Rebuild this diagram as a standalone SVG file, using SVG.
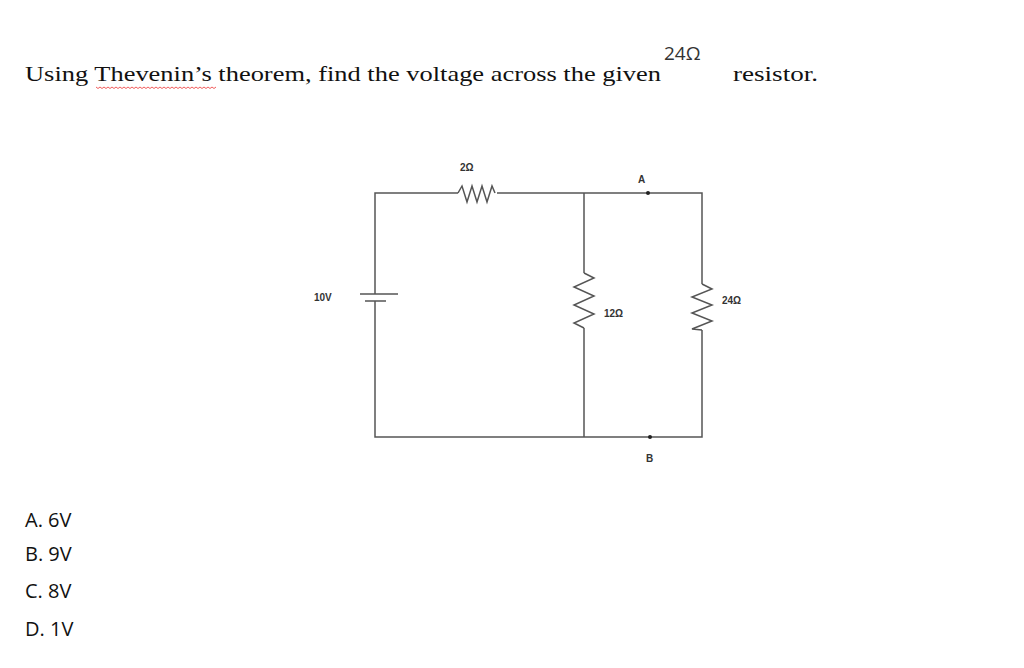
<svg xmlns="http://www.w3.org/2000/svg" width="1024" height="668" viewBox="0 0 1024 668">
<style>
.w{fill:none;stroke:#555;stroke-width:1.5}
.s{font-family:"Liberation Sans",Arial,sans-serif;font-size:10px;font-weight:bold;fill:#333}
.q{font-family:"Liberation Serif",serif;font-size:22px;fill:#111}
.o{font-family:"Open Sans",sans-serif;font-size:20px;fill:#111}
</style>
<rect width="1024" height="668" fill="#fff"/>
<text class="q" x="25" y="81" textLength="636" lengthAdjust="spacingAndGlyphs">Using Thevenin’s theorem, find the voltage across the given</text>
<path d="M96 87 l2 1.5 l2 -1.5 l2 1.5 l2 -1.5 l2 1.5 l2 -1.5 l2 1.5 l2 -1.5 l2 1.5 l2 -1.5 l2 1.5 l2 -1.5 l2 1.5 l2 -1.5 l2 1.5 l2 -1.5 l2 1.5 l2 -1.5 l2 1.5 l2 -1.5 l2 1.5 l2 -1.5 l2 1.5 l2 -1.5 l2 1.5 l2 -1.5 l2 1.5 l2 -1.5 l2 1.5 l2 -1.5 l2 1.5 l2 -1.5 l2 1.5 l2 -1.5 l2 1.5 l2 -1.5 l2 1.5 l2 -1.5 l2 1.5 l2 -1.5 l2 1.5 l2 -1.5 l2 1.5 l2 -1.5 l2 1.5 l2 -1.5 l2 1.5 l2 -1.5 l2 1.5 l2 -1.5 l2 1.5 l2 -1.5 l2 1.5 l2 -1.5 l2 1.5 l2 -1.5 l2 1.5 l2 -1.5 l2 1.5 l2 -1.5" fill="none" stroke="#e33" stroke-width="0.8"/>
<text x="664" y="60" style="font-family:'Open Sans',sans-serif;font-size:19px;fill:#333">24Ω</text>
<text class="q" x="733" y="81" textLength="85" lengthAdjust="spacingAndGlyphs">resistor.</text>
<g id="wires">
<path class="w" d="M375 294 V193 H458 M497 193 H702 V284 M702 330 V437 H375 V301"/>
<path class="w" d="M584 193 V273 M584 328 V437"/>
<path class="w" d="M458 193 l4 -7 l5 16 l5 -16 l5 16 l5 -16 l5 16 l5 -16 l3 7"/>
<path class="w" d="M584 273 l10 5 l-20 9 l20 9 l-20 9 l20 9 l-20 9 l10 5"/>
<path class="w" d="M702 284 l10 5 l-20 8 l20 8 l-20 8 l20 8 l-20 8 l10 1"/>
</g>
<g id="battery">
<line x1="360" y1="294" x2="398" y2="294" stroke="#555" stroke-width="1.5"/>
<line x1="365" y1="301" x2="386" y2="301" stroke="#555" stroke-width="1.5"/>
</g>
<circle cx="648" cy="193" r="2" fill="#222"/>
<circle cx="650" cy="437" r="2" fill="#222"/>
<text class="s" x="460" y="171">2Ω</text>
<text class="s" x="638" y="183">A</text>
<text class="s" x="646" y="462">B</text>
<text class="s" x="314" y="301">10V</text>
<text class="s" x="604" y="317">12Ω</text>
<text class="s" x="722" y="304">24Ω</text>
<text class="o" x="25" y="527">A. 6V</text>
<text class="o" x="25" y="561">B. 9V</text>
<text class="o" x="25" y="598">C. 8V</text>
<text class="o" x="25" y="636">D. 1V</text>
</svg>
